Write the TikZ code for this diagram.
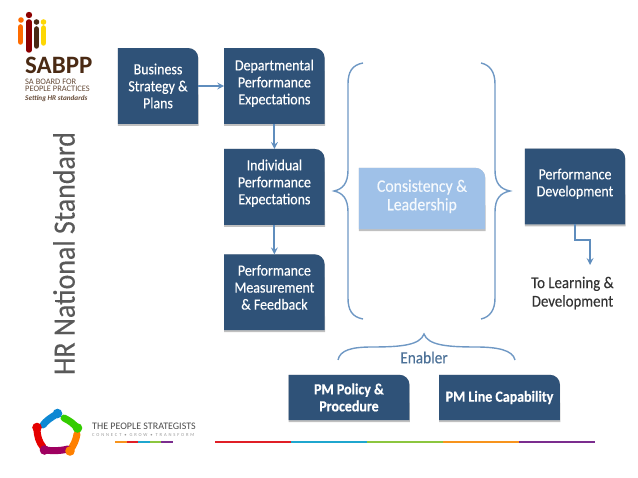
\documentclass[tikz,border=0pt]{standalone}
\usepackage{fontspec}
\setmainfont[FakeStretch=0.9,FakeBold=0.25]{Carlito}
\newfontfamily\logofont{Carlito}
\usepackage{tikz}
\usetikzlibrary{arrows, calc, positioning, backgrounds}
\newcommand{\liftby}[1]{\rule[-#1]{0pt}{#1}}
\definecolor{boxblue}{HTML}{2F5278}
\definecolor{lightblue}{HTML}{9FC1E8}
\definecolor{linkblue}{HTML}{5F8DBD}
\definecolor{sabppbrown}{HTML}{4A2A14}
\tikzstyle{flowchartbox} = [text centered, align=center, text=white, font=\fontsize{15.5}{17}\selectfont, inner sep=0pt, minimum width=100pt, minimum height=75.5pt]
\tikzstyle{smallbox} = [flowchartbox, minimum width=80pt]
\tikzstyle{enablerbox} = [flowchartbox, font=\fontsize{15.5}{17}\selectfont\bfseries, minimum width=120.5pt, minimum height=45pt]
\tikzstyle{softbox} = [flowchartbox, text=white!90!lightblue, font=\fontsize{17.5}{18.5}\selectfont, minimum width=126pt, minimum height=61pt]
\tikzstyle{flowchartarrow} = [->,line width=2pt,>=stealth,linkblue]
\tikzstyle{bracket} = [line width=1.4pt,linkblue!90!white]
\tikzstyle{person} = [line width=5.5pt,line cap=round]
\tikzstyle{teamarm} = [line width=7pt,line cap=round]
\begin{document}
\begin{tikzpicture}[x=1pt,y=-1pt]
		\useasboundingbox (0,0) rectangle (638,478);
		% boxes
		\node (business) [smallbox] at (158,86) {Business\\Strategy \&\\Plans};
		\node (departmental) [flowchartbox, right=26pt of business] {Departmental\\Performance\\Expectations\liftby{8pt}};
		\node (individual) [flowchartbox, below=25pt of departmental] {Individual\\Performance\\Expectations\liftby{10pt}};
		\node (measurement) [flowchartbox, below=29.5pt of individual] {Performance\\Measurement\\\& Feedback\liftby{10pt}};
		\node (consistency) [softbox] at (422,198.5) {Consistency \&\\Leadership\liftby{7pt}};
		\node (development) [flowchartbox] at (575,186.5) {Performance\\Development\liftby{8pt}};
		\node (policy) [enablerbox] at (349,397.5) {PM Policy \&\\Procedure};
		\node (capability) [enablerbox] at (499.5,397.5) {PM Line Capability};
		\node (enabler) [text=linkblue!80!black, font=\fontsize{17}{19}\selectfont, inner sep=0pt] at (424,357.5) {Enabler};
		\node (learning) [align=center, text=black!80, font=\fontsize{16.5}{18.5}\selectfont, inner sep=0pt] at (572.5,293) {To Learning \&\\Development};
		\node (standard) [rotate=90, text=black!65, font=\fontsize{31}{31}\selectfont, inner sep=0pt] at (64,253.5) {HR National Standard};
		% box backgrounds, only one corner is round
		\begin{pgfonlayer}{background}
			\foreach \boxname/\boxcolor in {business/boxblue, departmental/boxblue, individual/boxblue, measurement/boxblue, consistency/lightblue, development/boxblue, policy/boxblue, capability/boxblue} {
				\fill [black!45, opacity=0.55] ($(\boxname.south west)+(0,2)$) -- (\boxname.north west) [rounded corners=10pt] -- (\boxname.north east) [sharp corners] -- ($(\boxname.south east)+(0.5,2)$) -- cycle;
				\fill [\boxcolor] (\boxname.south west) -- (\boxname.north west) [rounded corners=10pt] -- (\boxname.north east) [sharp corners] -- (\boxname.south east) -- cycle;
			}
		\end{pgfonlayer}
		% connectors
		\draw [flowchartarrow] (business) -- (departmental);
		\draw [flowchartarrow] (departmental) -- (individual);
		\draw [flowchartarrow] (individual) -- (measurement);
		\coordinate (learning_top) at (590,265);
		\draw [flowchartarrow] (development.south) |- ++(15,16) -- (learning_top);
		% brackets
		\draw [bracket] (363,63) .. controls (352,65) and (348,72) .. (348,84) -- (348,170) .. controls (348,183) and (343,189) .. (334,191) .. controls (343,193) and (348,199) .. (348,212) -- (348,298) .. controls (348,310) and (352,317) .. (363,319);
		\draw [bracket] (481,63) .. controls (490,65) and (495,72) .. (495,84) -- (495,170) .. controls (495,183) and (500,189) .. (510,191) .. controls (500,193) and (495,199) .. (495,212) -- (495,298) .. controls (495,310) and (490,317) .. (481,319);
		\draw [bracket] (338,360) .. controls (340,350) and (352,347) .. (372,347) .. controls (402,347) and (420,345) .. (424,334) .. controls (428,345) and (446,347) .. (476,347) .. controls (497,347) and (513,350) .. (515,360);
		% colour line
		\foreach \startx/\linecolor in {215/E01F26, 291/1FA6CE, 367/8CC63F, 443/F7941D, 519/7B2D8E} {
			\definecolor{stripe}{HTML}{\linecolor}
			\draw [stripe, line width=2.2pt] (\startx,442) -- ++(76,0);
		}
		% SABPP logo
		\draw [person, draw=orange!85!red] (20.5,27) -- (20.5,42);
		\draw [person, draw=red!55!black] (29,22) -- (29,50);
		\draw [person, draw=sabppbrown] (36.5,29) -- (36.5,46);
		\draw [person, draw=yellow!75!orange] (43.5,28) -- (43.5,43);
		\fill [orange!85!red] (21,20) circle (2.8);
		\fill [red!55!black] (29,15) circle (3.2);
		\fill [sabppbrown] (36.5,22) circle (2.8);
		\fill [yellow!75!orange] (43.5,22) circle (2.8);
		\node (sabpp) [anchor=west, text=sabppbrown, inner sep=0pt, font=\logofont\fontsize{25}{25}\selectfont\bfseries] at (25,65) {SABPP};
		\node (board) [anchor=north west, align=left, text=sabppbrown!85!white, inner sep=0pt, font=\logofont\fontsize{8.4}{7.2}\selectfont] at (25,78.5) {SA BOARD FOR\\PEOPLE PRACTICES};
		\node (motto) [anchor=west, text=sabppbrown!85!white, inner sep=0pt, font=\logofont\fontsize{7.2}{7}\selectfont\bfseries\itshape] at (25,98.5) {Setting HR standards};
		% strategists logo
		\draw [teamarm, draw=cyan!70!blue] (57,414) .. controls (50,418) and (46,421) .. (43,425);
		\draw [teamarm, draw=green!60!olive] (64,418) .. controls (70,421) and (74,424) .. (77,428);
		\draw [teamarm, draw=orange] (77,434) .. controls (76,440) and (74,445) .. (70,450);
		\draw [teamarm, draw=violet!75!red] (68,449) .. controls (60,451) and (52,451) .. (45,450);
		\draw [teamarm, draw=red!90!black] (37,428) .. controls (37,436) and (39,442) .. (43,447);
		\fill [cyan!70!blue] (57.5,413.5) circle (4.8);
		\fill [green!60!olive] (77.5,428) circle (4.8);
		\fill [orange] (70,451) circle (4.8);
		\fill [violet!75!red] (44.5,450) circle (4.8);
		\fill [red!90!black] (37,427.5) circle (4.8);
		\node (strategists) [anchor=west, text=black!70, inner sep=0pt, font=\logofont\fontsize{10}{10}\selectfont] at (92,426) {THE PEOPLE STRATEGISTS};
		\node (tagline) [anchor=west, text=black!40, inner sep=0pt, font=\logofont\fontsize{4.6}{5}\selectfont\addfontfeature{LetterSpace=40}] at (92,435.5) {CONNECT • GROW • TRANSFORM};
		\foreach \startx/\linecolor in {115/F7941D, 127/E01F26, 138/1FA6CE, 150/8CC63F, 161/7B2D8E} {
			\definecolor{stripe}{HTML}{\linecolor}
			\draw [stripe, line width=1.2pt] (\startx,442) -- ++(11.6,0);
		}
	\end{tikzpicture}
\end{document}
